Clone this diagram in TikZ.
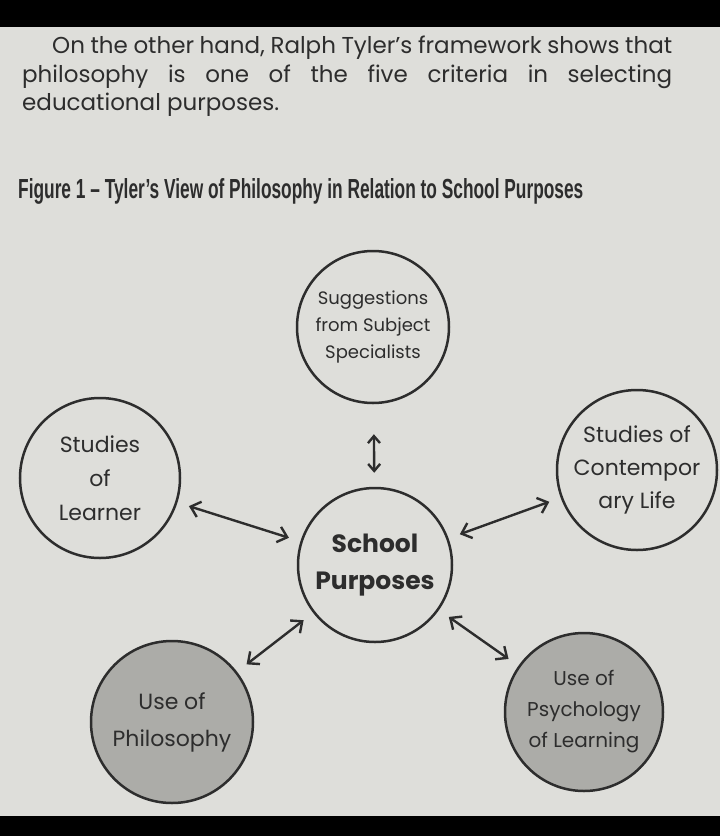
\documentclass[tikz,border=0pt]{standalone}
\usepackage{fontspec}
\setmainfont{Poppins}
\newfontfamily\capfont{Liberation Sans}
\usepackage{graphicx}
\usetikzlibrary{arrows.meta}

\definecolor{paper}{RGB}{222,222,218}
\definecolor{ink}{RGB}{45,45,45}
\definecolor{shade}{RGB}{172,172,168}

\begin{document}
\begin{tikzpicture}[x=1pt,y=-1pt,
    crit/.style={circle, draw=ink, line width=2.5pt, minimum size=156pt, inner sep=0pt,
      align=center, text=ink, font=\fontsize{20}{30}\selectfont},
    used/.style={crit, fill=shade},
    link/.style={draw=ink, line width=2.4pt,
      {Straight Barb[length=9pt,width=16pt]}-{Straight Barb[length=9pt,width=16pt]},
      shorten <=12pt, shorten >=12pt},
    prose/.style={anchor=base west, inner sep=0pt, text=ink, font=\fontsize{23}{29}\selectfont}]

  \useasboundingbox (0,0) rectangle (720,836);
  \fill[paper] (0,0) rectangle (720,836);
  \fill[black] (0,0) rectangle (720,27);
  \fill[black] (0,816) rectangle (720,836);

  % text above the figure
  \node[prose] (line1) at (52,53) {\makebox[620pt][s]{On the other hand, Ralph Tyler’s framework shows that}};
  \node[prose] (line2) at (22,82) {\makebox[650pt][s]{philosophy is one of the five criteria in selecting}};
  \node[prose] (line3) at (22,110) {educational purposes.};
  \node[anchor=base west, inner sep=0pt, text=ink] (caption) at (18,198)
    {\resizebox{565pt}{20pt}{\capfont\bfseries Figure 1 – Tyler’s View of Philosophy in Relation to School Purposes}};

  % the five criteria round the school purposes
  \node[crit, minimum size=152pt, font=\fontsize{18}{27}\selectfont] (spec) at (373,327) {Suggestions\\from Subject\\Specialists};
  \node[crit, minimum size=154pt, font=\bfseries\fontsize{25}{37}\selectfont] (school) at (375,565) {School\\Purposes};
  \node[crit, minimum size=160pt, font=\fontsize{22}{34}\selectfont] (learner) at (100,478) {Studies\\of\\Learner};
  \node[crit, minimum size=160pt, font=\fontsize{22}{33}\selectfont] (life) at (637,470) {Studies of\\Contempor\\ary Life};
  \node[used, minimum size=162pt, font=\fontsize{22}{37}\selectfont] (philo) at (172,722) {Use of\\Philosophy};
  \node[used, minimum size=158pt, font=\fontsize{20}{31}\selectfont] (psych) at (584,712) {Use of\\Psychology\\of Learning};

  \draw[link, shorten <=30pt, shorten >=14pt,
    {Straight Barb[length=7pt,width=12pt]}-{Straight Barb[length=7pt,width=12pt]}] (spec) -- (school);
  \draw[link] (learner) -- (school);
  \draw[link] (school) -- (life);
  \draw[link] (philo) -- (school);
  \draw[link] (school) -- (psych);
\end{tikzpicture}
\end{document}
